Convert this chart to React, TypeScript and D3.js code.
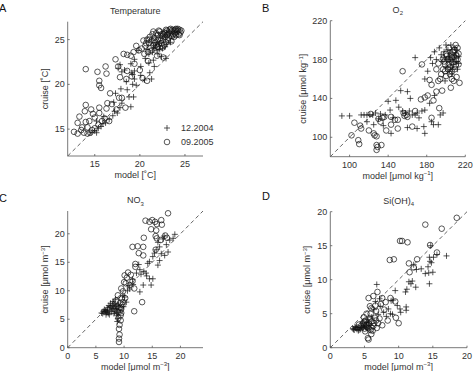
import React from "react";
import * as d3 from "d3";

type P = [number, number];

// Panel A: Temperature
const tempCircles: P[] = [
  [20.2,24.0],[20.4,24.9],[20.6,24.3],[20.8,25.0],[20.9,23.6],[21.0,24.6],[21.1,25.3],[21.2,24.1],[21.3,24.9],[21.4,25.6],[21.5,24.4],[21.6,25.2],[21.7,24.7],[21.8,25.7],[21.9,24.2],[22.0,25.0],[22.0,25.5],[22.1,24.5],[22.2,25.9],[22.3,25.2],[22.4,24.6],[22.4,25.6],[22.5,24.1],[22.6,25.0],[22.7,25.8],[22.8,25.3],[22.9,24.7],[23.0,26.0],[23.0,25.5],[23.1,25.0],[23.2,25.8],[23.3,26.1],[23.4,25.4],[23.5,25.9],[23.6,26.1],[23.7,25.6],[23.8,26.0],[23.9,25.7],[24.0,26.2],[24.1,25.9],[24.2,26.0],[24.3,25.6],[24.4,26.1],[24.5,25.8],[24.4,25.5],[23.8,25.3],[22.7,24.4],[21.3,23.8],[20.5,23.4],[19.9,23.8],[19.6,24.3],[19.3,23.6],[19.0,23.2],[18.6,23.3],[18.2,23.4],[21.9,23.2],[22.6,23.0],[20.9,22.6],[23.5,24.8],
  [21.0,25.0],[21.5,25.9],[22.1,26.0],[22.5,25.4],[22.9,26.1],[23.1,25.6],[23.6,25.4],[24.0,25.5],[24.2,26.2],[22.3,24.9],[21.8,24.4],[23.4,26.2],[24.6,26.0],[22.8,25.7],[21.6,24.9],[20.7,24.6],[23.9,26.1],[22.0,24.2],[22.6,25.6],[23.2,25.2],
  [14.0,21.7],[15.3,21.4],[15.5,20.4],[15.5,19.9],[15.7,19.6],[16.2,22.0],[16.3,21.2],[17.3,22.8],[17.6,22.0],[17.8,20.8],[18.5,20.6],[19.1,20.9],[20.3,20.7],[20.8,20.4],[16.7,19.0],[16.4,17.9],[17.7,18.5],[18.0,18.5],[18.4,17.4],[15.5,17.4],[16.9,17.8],[17.4,17.2],[18.6,21.5],[19.4,22.3],[20.0,21.6],
  [14.0,17.7],[13.9,17.0],[13.3,16.4],[13.1,15.7],[13.5,14.9],[12.7,14.7],[13.1,14.5],[13.8,14.6],[14.2,14.5],[14.5,14.6],[14.4,15.9],[15.0,15.1],[14.2,15.2],[15.5,16.8],[16.1,16.2],[14.8,16.7],[15.4,15.5],[16.6,15.9],[14.0,15.8],[13.6,15.2],[14.7,14.9],[15.8,15.9],[15.0,16.3],[16.3,17.3],[14.6,17.2]
];
const tempPlus: P[] = [
  [14.6,14.6],[15.0,14.8],[15.2,14.6],[15.4,15.1],[15.7,15.3],[15.9,15.6],[16.2,15.7],[16.6,16.1],[17.0,16.5],[17.2,17.0],[17.5,16.8],[17.8,17.4],[18.0,17.9],[17.1,18.0],[17.3,19.0],[18.8,18.6],[19.3,18.6],[19.0,17.5],[18.6,19.4],[19.2,20.0],[19.4,20.6],[19.1,21.3],[19.4,21.5],[19.2,21.1],[18.3,21.6],[17.6,21.8],[17.8,22.2],[18.0,21.4],[19.6,19.9],[20.5,20.5],[21.3,20.6],[21.1,21.3],[20.1,22.0],[21.0,22.4],[21.5,22.7],[22.0,23.4],[22.4,23.1],[22.9,22.9],[21.4,23.6],[20.8,23.9],[19.4,22.8],[19.8,23.8],[21.8,24.3],[22.5,24.0],[20.1,21.0],[19.0,22.3],[18.5,20.3],[17.9,19.5],[21.6,22.0],[22.2,23.9],[23.0,24.5],[20.6,22.9],[16.0,16.4],[15.2,15.9],
  [21.5,24.0],[22.2,24.6],[22.8,24.2],[21.0,23.4],[23.4,24.7],[21.9,23.8]
];

// Panel B: O2
const o2Circles: P[] = [
  [102,102],[105,115],[111,112],[112,109],[109,97],[110,93],[125,104],[126,102],[128,101],[128,92],[129,90],[133,92],[128,87],[132,116],[134,120],[136,121],[143,121],[143,113],[150,118],[157,122],[159,123],[150,109],[165,111],[155,168],[175,175],[174,139],[178,141],[181,143],[190,147],[183,159],[192,158],[193,130],[205,151],[214,156],[160,121],[147,118],[187,138],[168,127],[185,154],[195,165],[197,170],[199,175],[200,163],[202,180],[204,172],[205,185],[206,168],[207,177],[208,183],[209,190],[210,174],[211,162],[212,180],[213,186],[203,192],[201,184],[206,160],[190,170],[192,176],[194,160],[197,181],[210,195],[196,148],[185,120],[122,124],[120,107],[130,119],[138,107],[156,125],
  [198,178],[200,186],[203,176],[205,179],[207,188],[209,170],[211,184],[213,175],[204,165],[208,158],[212,192],[199,168],[202,170],[206,182],[210,180]
];
const o2Plus: P[] = [
  [92,122],[100,122],[112,123],[115,123],[118,123],[121,123],[124,123],[127,125],[130,119],[132,124],[137,123],[140,137],[143,104],[148,138],[153,148],[160,147],[155,127],[158,125],[162,127],[165,123],[168,123],[170,125],[172,120],[170,109],[177,111],[178,104],[185,116],[187,113],[192,113],[194,123],[197,125],[168,182],[178,160],[181,168],[184,182],[186,176],[188,188],[190,180],[193,192],[195,185],[196,178],[198,188],[200,195],[202,190],[204,186],[205,195],[207,180],[208,175],[209,192],[210,187],[211,178],[212,170],[213,183],[200,172],[203,168],[206,165],[199,158],[183,135],[175,127],[163,140],[151,131],[145,120],[135,112],[118,116],[142,128],[160,110],[178,128],[188,143],[125,113],
  [201,180],[204,178],[206,190],[209,184],[211,190],[213,176],[207,170],[203,183],[198,182],[205,172]
];

// Panel C: NO3
const no3Circles: P[] = [
  [13.8,22.3],[14.5,22.1],[15.0,22.4],[15.5,22.1],[15.8,21.7],[16.6,22.4],[16.7,21.6],[17.8,23.6],[14.8,20.8],[15.7,20.6],[15.6,19.6],[15.8,19.2],[17.3,19.7],[17.6,19.3],[13.5,19.3],[11.5,17.7],[12.4,17.8],[13.4,17.7],[12.0,14.7],[13.4,16.2],[10.1,12.7],[10.0,11.5],[10.3,11.3],[11.0,11.0],[9.5,10.4],[9.8,9.9],[8.9,9.2],[8.6,8.3],[13.2,8.0],[11.8,6.4],[9.2,4.0],[9.1,3.3],[9.2,2.3],[9.1,1.6],[9.1,1.0],[9.2,6.3],[9.4,5.7],[9.5,6.8],[9.7,7.5],[10.5,12.3],[11.2,12.8],[12.6,16.6],[10.7,13.2],[11.5,11.7],[9.3,7.9],[9.0,6.9],[9.6,8.6],[12.0,14.2],[11.8,10.4],[10.2,8.7],[8.8,7.3],[9.4,4.8],[15.6,17.2],[16.5,18.9],
  [8.9,6.3],[9.3,7.0],[9.0,5.2],[9.5,6.1],[9.8,8.0]
];
const no3Plus: P[] = [
  [6.0,6.1],[6.3,6.4],[6.6,6.3],[6.9,6.2],[7.2,6.0],[7.5,6.6],[7.8,6.4],[8.1,6.9],[8.4,7.5],[7.0,7.0],[7.3,7.4],[7.6,7.8],[8.0,8.1],[8.3,6.3],[6.8,5.8],[7.4,5.8],[8.6,6.8],[8.2,7.7],[7.7,7.1],[6.5,6.7],[8.9,5.1],[8.8,4.6],[8.7,5.7],[8.5,8.5],[9.0,7.5],
  [6.2,6.0],[6.7,6.5],[7.1,6.3],[7.9,6.8],[8.2,6.0],[7.5,7.2],[8.6,7.2],[7.0,6.6],[8.0,7.4],[8.8,6.2],
  [9.8,9.2],[10.1,8.9],[10.6,10.0],[10.9,10.9],[11.5,12.0],[11.6,11.1],[12.2,13.1],[12.8,13.7],[12.6,14.6],[13.5,13.4],[13.9,13.1],[14.2,14.8],[14.5,15.1],[15.1,16.0],[15.4,16.6],[15.7,17.2],[16.3,17.7],[17.5,18.1],[18.1,18.9],[18.7,19.2],[19.0,19.9],[17.8,16.8],[17.2,16.2],[16.6,16.5],[16.3,15.3],[14.8,11.0],[15.1,12.1],[13.4,11.0],[12.8,9.8],[14.0,12.6],[14.5,12.1],[16.0,14.5],[16.9,19.1],[9.9,7.2],[10.4,8.0],[13.0,12.9],[11.0,10.3],[17.1,19.6],[16.0,18.5]
];

// Panel D: Si(OH)4
const siCircles: P[] = [
  [18.5,19.1],[13.9,18.1],[16.3,17.5],[10.2,15.7],[10.5,15.7],[11.3,15.5],[8.7,12.9],[9.3,13.0],[15.6,14.0],[12.7,13.0],[11.5,12.4],[11.6,11.1],[14.6,15.1],[12.2,11.8],[5.6,7.3],[6.3,7.6],[6.9,8.2],[7.6,7.3],[8.1,6.7],[8.8,7.3],[9.5,6.8],[10.0,3.6],[7.6,3.3],[9.6,4.4],[6.7,5.4],[7.2,4.3],[5.8,6.1],[5.5,1.4],[5.6,1.2],[6.0,2.0],[4.5,3.2],[4.8,3.6],[5.0,2.8],[5.2,4.0],[5.4,3.0],[5.7,3.5],[5.9,2.6],[6.1,3.9],[6.3,3.2],[6.5,4.4],[6.8,2.9],[7.0,3.6],[4.9,4.5],[5.3,5.0],[6.0,5.8],[7.4,6.4],[8.4,4.0],[5.1,2.4],[6.2,2.5],[4.2,3.4],[6.6,6.2],[7.9,5.6],
  [5.3,3.4],[5.6,2.9],[5.8,4.3],[6.0,3.0],[6.4,3.6],[5.0,3.9],[6.7,4.0],[5.9,5.0]
];
const siPlus: P[] = [
  [3.3,2.8],[3.5,2.6],[3.7,2.9],[3.9,2.7],[4.1,2.5],[4.3,2.9],[3.6,3.1],[4.0,3.0],[4.4,2.7],[4.6,3.0],[4.8,2.9],[5.0,3.3],[5.3,3.7],[5.5,4.1],[5.8,3.3],[6.0,4.5],[4.7,3.8],[6.8,9.3],[14.7,15.0],[14.6,12.7],[14.5,13.3],[14.3,11.9],[14.5,9.4],[15.0,11.1],[14.4,11.0],[17.0,13.5],[15.6,13.7],[12.2,12.2],[12.6,11.5],[13.3,11.6],[11.5,9.7],[11.8,9.4],[11.2,8.6],[12.5,8.9],[11.1,6.0],[11.1,5.5],[10.2,5.7],[9.5,8.4],[8.8,5.0],[9.1,4.9],[7.8,5.2],[7.3,6.1],[6.6,6.8],[7.2,7.2],[8.5,5.7],[9.2,7.0],[13.9,10.9],[12.0,9.8],[11.0,8.2],[9.8,6.2],[8.2,4.6],[10.3,5.2],[7.0,4.9],[6.4,5.6],[8.9,6.9],[14.8,12.5],[15.1,13.3],
  [3.4,2.7],[3.8,3.0],[4.2,2.6],[4.5,3.3],[4.9,3.1],[5.2,3.0],[5.6,3.6],[5.4,2.8]
];

const tempTicks = [15, 20, 25];
const o2Ticks = [100, 140, 180, 220];
const no3XTicks = [0, 5, 10, 15, 20];
const no3YTicks = [0, 5, 10, 15, 20];
const siTicks = [0, 5, 10, 15, 20];
const legendLabels = ["12.2004", "09.2005"];

const FONT = "'Liberation Sans', Arial, Helvetica, sans-serif";
const AXC = "#555";
const TXC = "#333";
const FS = 9;

type Label = React.ReactNode;

interface PanelProps {
  letter: string;
  letterX: number;
  letterY: number;
  title: Label;
  x0: number; x1: number; y0: number; y1: number;
  domain: [number, number];
  xTicks: number[];
  yTicks: number[];
  xLabel: Label;
  yLabel: Label;
  yLabelX: number;
  circles: P[];
  plus: P[];
  legend?: boolean;
}

function Panel(p: PanelProps) {
  const xs = d3.scaleLinear().domain(p.domain).range([p.x0, p.x1]);
  const ys = d3.scaleLinear().domain(p.domain).range([p.y1, p.y0]);
  const line = d3.line<number>().x((d) => xs(d)).y((d) => ys(d));
  const r = 2.8;
  const a = 3;
  const sw = 0.7;
  const cx = (p.x0 + p.x1) / 2;
  const cy = (p.y0 + p.y1) / 2;
  return (
    <g fontFamily={FONT}>
      <text x={p.letterX} y={p.letterY} fontSize={11} fill="#111">{p.letter}</text>
      <text x={cx} y={p.y0 - 8} fontSize={FS} fill={TXC} textAnchor="middle">{p.title}</text>
      <path d={line(p.domain) || ""} stroke="#222" strokeWidth={0.7} strokeDasharray="4,3" fill="none" />
      {p.circles.map((d, i) => (
        <circle key={"c" + i} cx={xs(d[0])} cy={ys(d[1])} r={r} fill="none" stroke="#111" strokeWidth={sw} />
      ))}
      {p.plus.map((d, i) => (
        <path key={"p" + i} d={`M${xs(d[0]) - a},${ys(d[1])}h${2 * a}M${xs(d[0])},${ys(d[1]) - a}v${2 * a}`} stroke="#111" strokeWidth={sw} fill="none" />
      ))}
      <line x1={p.x0} x2={p.x1} y1={p.y1} y2={p.y1} stroke={AXC} strokeWidth={0.8} />
      <line x1={p.x0} x2={p.x0} y1={p.y0} y2={p.y1} stroke={AXC} strokeWidth={0.8} />
      {p.xTicks.map((t) => (
        <g key={"xt" + t}>
          <line x1={xs(t)} x2={xs(t)} y1={p.y1} y2={p.y1 - 2} stroke={AXC} strokeWidth={0.8} />
          <text x={xs(t)} y={p.y1 + 11} fontSize={FS} fill={TXC} textAnchor="middle">{t}</text>
        </g>
      ))}
      {p.yTicks.map((t) => (
        <g key={"yt" + t}>
          <line x1={p.x0} x2={p.x0 + 2} y1={ys(t)} y2={ys(t)} stroke={AXC} strokeWidth={0.8} />
          <text x={p.x0 - 3} y={ys(t) + 3} fontSize={FS} fill={TXC} textAnchor="end">{t}</text>
        </g>
      ))}
      <text x={cx} y={p.y1 + 22} fontSize={FS} fill={TXC} textAnchor="middle">{p.xLabel}</text>
      <text transform={`translate(${p.yLabelX},${cy}) rotate(-90)`} fontSize={FS} fill={TXC} textAnchor="middle">{p.yLabel}</text>
      {p.legend && (
        <g>
          <path d={`M${167 - a},128h${2 * a}M167,${128 - a}v${2 * a}`} stroke="#111" strokeWidth={sw} />
          <text x={181} y={131} fontSize={FS} fill={TXC}>{legendLabels[0]}</text>
          <circle cx={167} cy={142} r={r} fill="none" stroke="#111" strokeWidth={sw} />
          <text x={181} y={145} fontSize={FS} fill={TXC}>{legendLabels[1]}</text>
        </g>
      )}
    </g>
  );
}

const sup = (s: string) => <tspan dy={-3.5} fontSize={6}>{s}</tspan>;
const sub = (s: string) => <tspan dy={2.5} fontSize={6}>{s}</tspan>;

export default function App() {
  return (
    <svg width={474} height={371} style={{ position: "absolute", left: 0, top: 0, background: "#fff" }}>
      <rect width={474} height={371} fill="#fff" />
      <Panel letter="A" letterX={-1} letterY={12} title="Temperature"
        x0={67.7} x1={203} y0={21.7} y1={156} domain={[12, 27]}
        xTicks={tempTicks} yTicks={tempTicks}
        xLabel="model [˚C]" yLabel="cruise [˚C]" yLabelX={48}
        circles={tempCircles} plus={tempPlus} legend />
      <Panel letter="B" letterX={262} letterY={12} title={<>O{sub("2")}</>}
        x0={330.3} x1={465.3} y0={20.7} y1={156.7} domain={[80, 220]}
        xTicks={o2Ticks} yTicks={o2Ticks}
        xLabel={<>model [μmol kg{sup("−1")}<tspan dy={3.5}>]</tspan></>}
        yLabel={<>cruise [μmol kg{sup("−1")}<tspan dy={3.5}>]</tspan></>} yLabelX={306}
        circles={o2Circles} plus={o2Plus} />
      <Panel letter="C" letterX={-1} letterY={202} title={<>NO{sub("3")}</>}
        x0={67.7} x1={203} y0={211} y1={347.7} domain={[0, 24]}
        xTicks={no3XTicks} yTicks={no3YTicks}
        xLabel={<>model [μmol m{sup("−3")}<tspan dy={3.5}>]</tspan></>}
        yLabel={<>cruise [μmol m{sup("−3")}<tspan dy={3.5}>]</tspan></>} yLabelX={48}
        circles={no3Circles} plus={no3Plus} />
      <Panel letter="D" letterX={262} letterY={200} title={<>Si(OH){sub("4")}</>}
        x0={330.3} x1={467} y0={211.7} y1={347.7} domain={[0, 20]}
        xTicks={siTicks} yTicks={siTicks}
        xLabel={<>model [μmol m{sup("−3")}<tspan dy={3.5}>]</tspan></>}
        yLabel={<>cruise [μmol m{sup("−3")}<tspan dy={3.5}>]</tspan></>} yLabelX={310}
        circles={siCircles} plus={siPlus} />
    </svg>
  );
}
